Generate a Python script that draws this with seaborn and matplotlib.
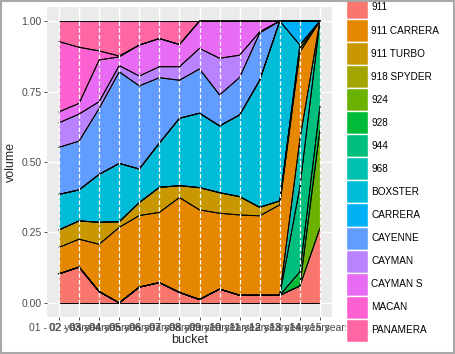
import matplotlib
matplotlib.use('Agg')
import matplotlib.pyplot as plt
from matplotlib.patches import Rectangle
import seaborn as sns
import numpy as np
import pandas as pd

buckets = ['01 - 02 years', '02 - 03 years', '03 - 04 years', '04 - 05 years',
           '05 - 06 years', '06 - 07 years', '07 - 08 years', '08 - 09 years',
           '09 - 10 years', '10 - 11 years', '11 - 12 years', '12 - 13 years',
           '13 - 14 years', '14 - 15 years']

models = ['911', '911 CARRERA', '911 TURBO', '918 SPYDER', '924', '928', '944',
          '968', 'BOXSTER', 'CARRERA', 'CAYENNE', 'CAYMAN', 'CAYMAN S', 'MACAN',
          'PANAMERA']

# ggplot default hue palette for 15 levels
colors = ['#F8766D', '#E58700', '#C99800', '#A3A500', '#6BB100', '#00BA38',
          '#00BF7D', '#00C0AF', '#00BCD8', '#00B0F6', '#619CFF', '#B983FF',
          '#E76BF3', '#FD61D1', '#FF67A4']

# volume share per bucket
v_911       = [0.103, 0.127, 0.040, 0.000, 0.056, 0.072, 0.037, 0.012, 0.049, 0.027, 0.027, 0.027, 0.060, 0.265]
v_911c      = [0.094, 0.099, 0.168, 0.268, 0.254, 0.249, 0.337, 0.318, 0.269, 0.285, 0.282, 0.321, 0.310, 0.000]
v_911t      = [0.062, 0.065, 0.078, 0.020, 0.046, 0.089, 0.042, 0.079, 0.073, 0.065, 0.030, 0.014, 0.012, 0.000]
v_918       = [0.000, 0.000, 0.000, 0.000, 0.000, 0.000, 0.000, 0.000, 0.000, 0.000, 0.000, 0.000, 0.013, 0.000]
v_924       = [0.000, 0.000, 0.000, 0.000, 0.000, 0.000, 0.000, 0.000, 0.000, 0.000, 0.000, 0.000, 0.000, 0.348]
v_928       = [0.000, 0.000, 0.000, 0.000, 0.000, 0.000, 0.000, 0.000, 0.000, 0.000, 0.000, 0.000, 0.050, 0.083]
v_944       = [0.000, 0.000, 0.000, 0.000, 0.000, 0.000, 0.000, 0.000, 0.000, 0.000, 0.000, 0.000, 0.300, 0.304]
v_968       = [0.000, 0.000, 0.000, 0.000, 0.000, 0.000, 0.000, 0.000, 0.000, 0.000, 0.000, 0.000, 0.170, 0.000]
v_boxster   = [0.126, 0.110, 0.170, 0.207, 0.119, 0.157, 0.239, 0.264, 0.237, 0.290, 0.451, 0.638, 0.000, 0.000]
v_carrera   = [0.000, 0.000, 0.000, 0.000, 0.000, 0.000, 0.000, 0.000, 0.000, 0.000, 0.000, 0.000, 0.085, 0.000]
v_cayenne   = [0.167, 0.173, 0.234, 0.325, 0.295, 0.232, 0.135, 0.157, 0.110, 0.133, 0.168, 0.000, 0.000, 0.000]
v_cayman    = [0.087, 0.096, 0.024, 0.022, 0.035, 0.039, 0.048, 0.073, 0.130, 0.079, 0.004, 0.000, 0.000, 0.000]
v_cayman_s  = [0.039, 0.038, 0.148, 0.031, 0.110, 0.100, 0.079, 0.097, 0.132, 0.121, 0.038, 0.000, 0.000, 0.000]
v_macan     = [0.249, 0.199, 0.032, 0.003, 0.000, 0.000, 0.000, 0.000, 0.000, 0.000, 0.000, 0.000, 0.000, 0.000]
v_panamera  = [0.073, 0.093, 0.106, 0.124, 0.085, 0.062, 0.083, 0.000, 0.000, 0.000, 0.000, 0.000, 0.000, 0.000]

series = [v_911, v_911c, v_911t, v_918, v_924, v_928, v_944, v_968, v_boxster,
          v_carrera, v_cayenne, v_cayman, v_cayman_s, v_macan, v_panamera]

# stacking follows the row order of the data (the old 924-968 models sit right above 911)
stack_order = ['911', '924', '928', '944', '968', '911 CARRERA', '911 TURBO',
               '918 SPYDER', 'BOXSTER', 'CARRERA', 'CAYENNE', 'CAYMAN',
               'CAYMAN S', 'MACAN', 'PANAMERA']

df = pd.DataFrame({'bucket': np.repeat(buckets, 15),
                   'model': models * len(buckets),
                   'volume': np.array(series).T.ravel()})
df['volume'] = df['volume'] / df.groupby('bucket')['volume'].transform('sum')
wide = df.pivot(index='bucket', columns='model', values='volume').loc[buckets, stack_order]
top = wide.cumsum(axis=1)
bottom = top - wide

n = len(buckets)
xs = np.arange(1, n + 1)

sns.set_theme(style='darkgrid', rc={'axes.facecolor': '#EBEBEB', 'grid.color': 'white'})
plt.rcParams['font.family'] = ['Liberation Sans', 'DejaVu Sans']

fig = plt.figure(figsize=(4.55, 3.54), dpi=100)
fig.patch.set_facecolor('white')
ax = fig.add_axes([47 / 455, 1 - 317 / 354, 285 / 455, 310 / 354])
col = dict(zip(models, colors))
for m in stack_order:
    ax.fill_between(xs, bottom[m].values, top[m].values, color=col[m], lw=0)
for m in stack_order:
    ax.plot(xs, top[m].values, color='black', lw=0.7)
    ax.plot(xs, bottom[m].values, color='black', lw=0.7)
for x in xs:
    ax.axvline(x, color='white', lw=0.9, ls=(0, (3.5, 1.8)))

ax.set_xlim(0.4, n + 0.6)
ax.set_ylim(-0.05, 1.05)
ax.set_yticks([0, 0.25, 0.5, 0.75, 1.0])
ax.set_yticklabels(['0.00', '0.25', '0.50', '0.75', '1.00'])
ax.set_xticks(xs)
ax.set_xticklabels(buckets)
ax.tick_params(axis='both', labelsize=7.5, labelcolor='#4D4D4D', color='#333333',
               length=2.5, width=0.6, pad=1.5, left=True, bottom=True)
ax.set_xlabel('bucket', fontsize=9, labelpad=1)
ax.set_ylabel('volume', fontsize=9, labelpad=3)
for s in ax.spines.values():
    s.set_visible(False)
ax.grid(True)

# legend keys at the right, top of it cut off like the original export
lax = fig.add_axes([345 / 455, 0, 110 / 455, 1])
lax.set_xlim(345, 455)
lax.set_ylim(354, 0)
lax.axis('off')
for j, (m, c) in enumerate(zip(models, colors)):
    y0 = -4 + 23.05 * j
    lax.add_patch(Rectangle((345.5, y0), 22.5, 23.05, facecolor=c, edgecolor='white', lw=1))
    lax.text(371, y0 + 11.5, m, fontsize=7.2, va='center', ha='left', color='black')

fig.add_artist(Rectangle((0.002, 0.003), 0.996, 0.994, transform=fig.transFigure,
                         fill=False, edgecolor='#A8A8A8', lw=1.5))
fig.savefig('out.png', dpi=100)
